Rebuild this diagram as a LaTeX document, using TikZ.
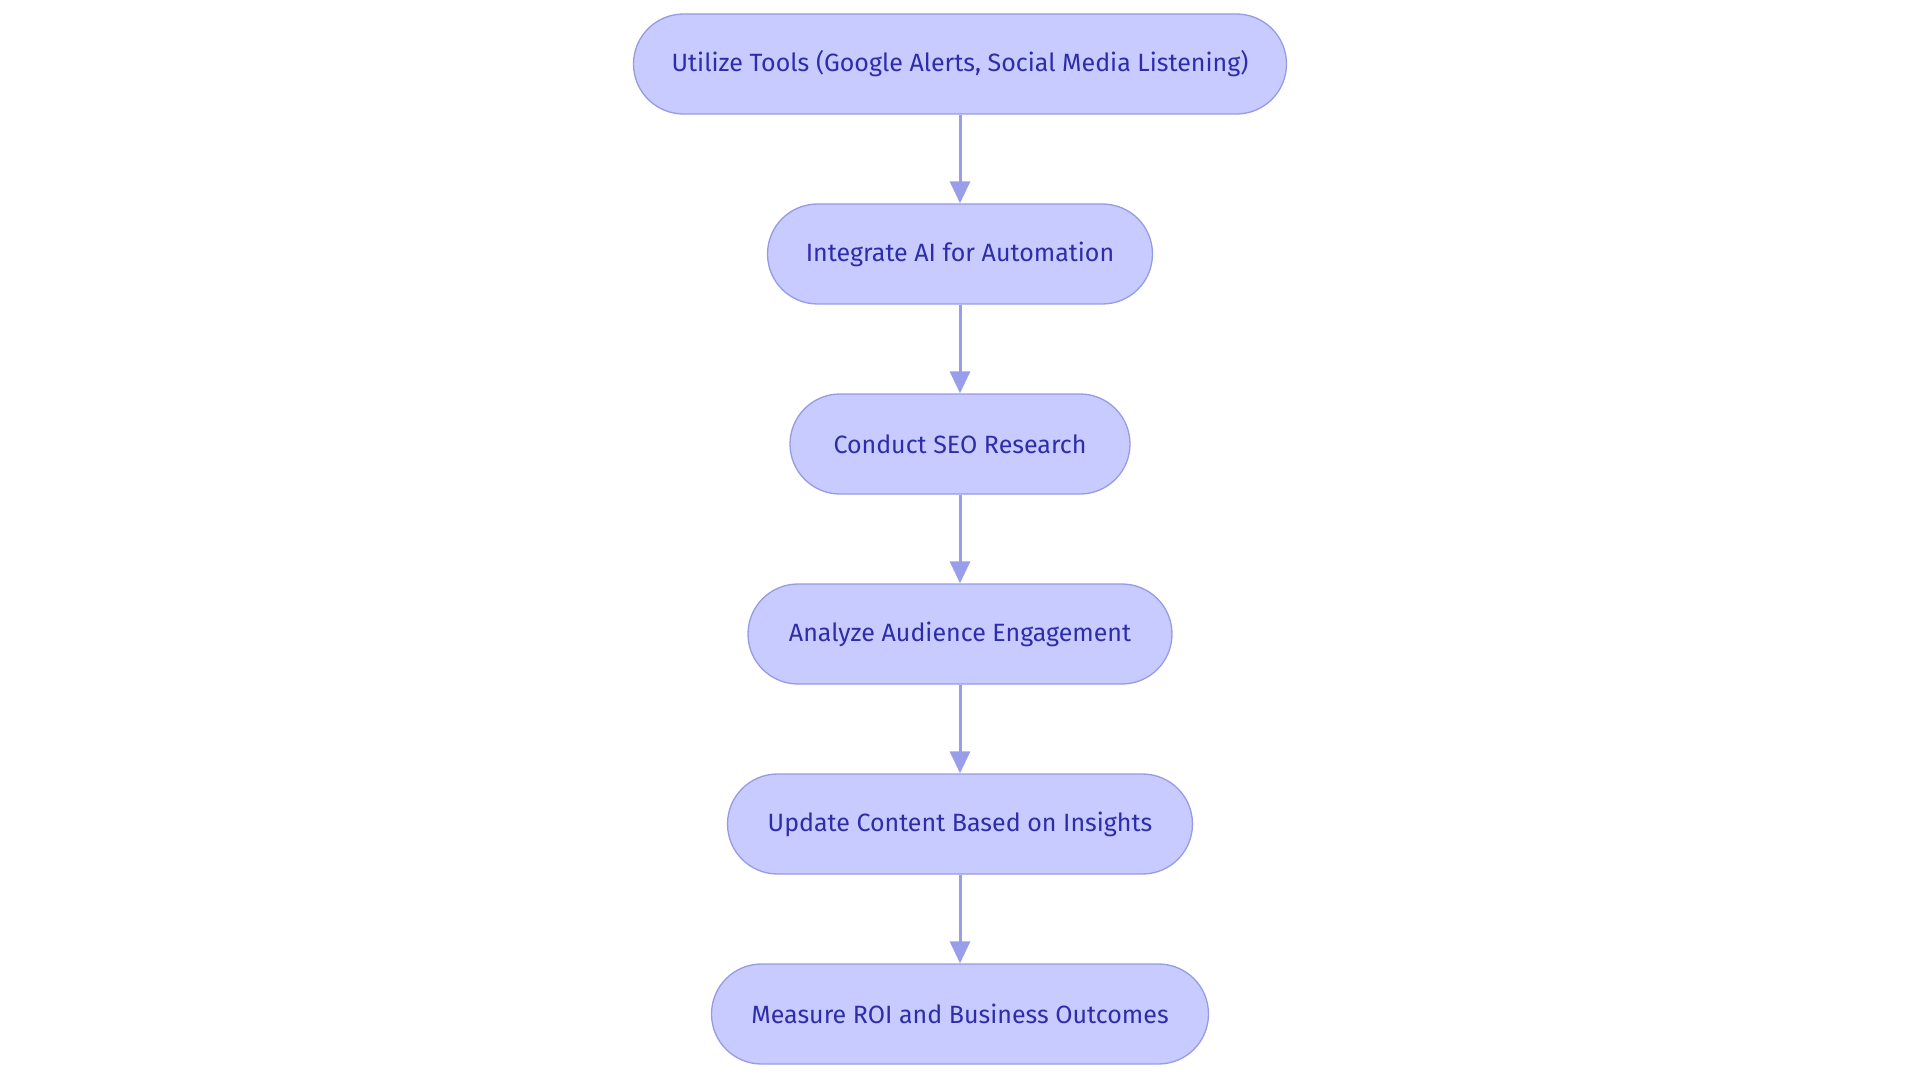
\documentclass[tikz,border=0pt]{standalone}
\usepackage{fontspec}
\setmainfont{Fira Sans}
\usetikzlibrary{arrows.meta}
\definecolor{nfill}{RGB}{200,203,255}
\definecolor{nline}{RGB}{150,155,228}
\definecolor{ntext}{RGB}{45,45,170}
\definecolor{aline}{RGB}{153,158,235}
\begin{document}
\begin{tikzpicture}[x=1pt,y=-1pt,
  box/.style={draw=nline,fill=nfill,line width=1.3pt,rounded corners=50pt,minimum height=100pt,text=ntext,font=\fontsize{25}{30}\selectfont,inner sep=0pt},
  arr/.style={draw=aline,line width=3pt,-{Triangle[length=22pt,width=20pt]}}]
\useasboundingbox (0,0) rectangle (1920,1083);
\node[box,minimum width=653pt] (a) at (960,64) {Utilize Tools (Google Alerts, Social Media Listening)};
\node[box,minimum width=385pt] (b) at (960,254) {Integrate AI for Automation};
\node[box,minimum width=340pt] (c) at (960,444) {Conduct SEO Research};
\node[box,minimum width=424pt] (d) at (960,634) {Analyze Audience Engagement};
\node[box,minimum width=465pt] (e) at (960,824) {Update Content Based on Insights};
\node[box,minimum width=497pt] (f) at (960,1014) {Measure ROI and Business Outcomes};
\draw[arr] (a) -- (b);
\draw[arr] (b) -- (c);
\draw[arr] (c) -- (d);
\draw[arr] (d) -- (e);
\draw[arr] (e) -- (f);
\end{tikzpicture}
\end{document}
